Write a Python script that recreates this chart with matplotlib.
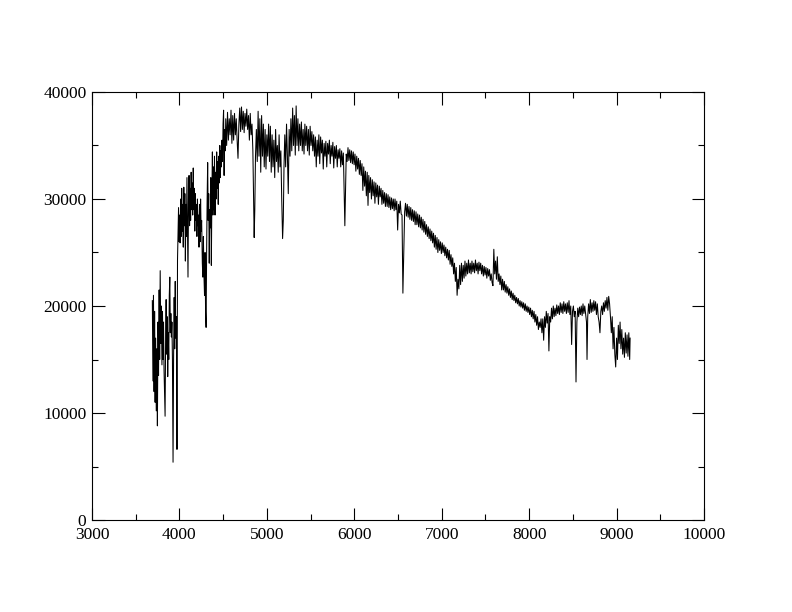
import numpy as np
import matplotlib.pyplot as plt

# spectrum, (wavelength, flux) pairs in segments
seg_blue = [
    (3690, 20500), (3697, 13000), (3703, 21000), (3710, 12000), (3716, 19500), (3722, 11000),
    (3728, 17000), (3735, 10200), (3742, 16000), (3748, 8800), (3755, 18500), (3761, 13500),
    (3768, 21500), (3774, 15000), (3780, 23300), (3787, 16500), (3793, 20000), (3800, 14500),
    (3806, 19500), (3812, 15000), (3818, 18500), (3824, 14000), (3830, 12000), (3836, 9700),
    (3842, 17000), (3848, 20600), (3854, 15500), (3860, 19000), (3866, 13400), (3872, 17500),
    (3878, 15000), (3884, 21000), (3890, 22700), (3896, 17500), (3902, 19300), (3908, 17100),
    (3914, 18500), (3920, 15000), (3927, 5400), (3933, 15000), (3940, 20800), (3946, 16000),
    (3952, 22300), (3958, 17000), (3965, 19000), (3972, 6600), (3978, 24300), (3984, 27000),
    (3990, 29200), (3996, 26000), (4002, 28500), (4008, 25900), (4014, 30000), (4020, 26500),
    (4026, 31000), (4032, 27000), (4038, 29500), (4044, 25500), (4050, 31100), (4056, 27500),
    (4062, 30500), (4068, 24200), (4074, 29500), (4080, 26500), (4086, 32000), (4092, 27000),
    (4098, 22700), (4104, 30000), (4110, 32200), (4116, 27500), (4122, 31000), (4128, 28000),
    (4134, 32500), (4140, 29000), (4146, 31500), (4152, 28500), (4158, 32900), (4164, 29000),
    (4170, 31000), (4176, 27000), (4182, 30500), (4188, 28000), (4194, 29500), (4200, 26500),
    (4206, 30000), (4212, 27500), (4218, 28500), (4224, 25500), (4230, 29500), (4236, 26000),
    (4242, 30000), (4248, 27000), (4254, 28000), (4262, 24000), (4268, 22700), (4274, 26500),
    (4280, 23000), (4287, 21000), (4293, 25000), (4299, 19500), (4305, 18000), (4311, 25000),
    (4317, 30000), (4323, 33400), (4329, 28000), (4335, 30500), (4341, 24000), (4347, 29000),
    (4353, 27300), (4359, 32000), (4365, 23800), (4371, 30000), (4377, 34400), (4383, 28500),
    (4389, 33000), (4395, 29000), (4401, 34000), (4407, 28500), (4413, 32500), (4420, 30000),
    (4426, 34400), (4432, 31000), (4438, 33500), (4444, 29500), (4450, 34000), (4456, 31500),
    (4462, 35000), (4468, 32000), (4474, 34500), (4480, 33000), (4487, 35500), (4493, 33500),
    (4499, 37000), (4505, 38300), (4511, 32200), (4517, 36500), (4523, 34500),
]

seg_green = [
    (4530, 37500), (4540, 35000), (4550, 38100), (4560, 35500), (4570, 37500), (4580, 36000),
    (4590, 38300), (4600, 35200), (4610, 37800), (4620, 35500), (4630, 38000), (4640, 36000),
    (4650, 37500), (4660, 35500), (4670, 33800), (4680, 37000), (4690, 38500), (4700, 36300),
    (4710, 38600), (4720, 36500), (4730, 38200), (4740, 36200), (4750, 38000), (4760, 36800),
    (4770, 38400), (4780, 36500), (4790, 37800), (4800, 35500), (4810, 38000), (4820, 36000),
    (4830, 37000), (4840, 34500), (4848, 30000), (4855, 26400), (4862, 29000), (4870, 34000),
    (4880, 36500), (4890, 33500), (4900, 38200), (4910, 34000), (4920, 37500), (4930, 32500),
    (4940, 37800), (4950, 34000), (4960, 37000), (4970, 33000), (4980, 36500), (4990, 32800),
    (5000, 36000), (5010, 34000), (5020, 37000), (5030, 33500), (5040, 36800), (5050, 32500),
    (5060, 36000), (5070, 33000), (5080, 35500), (5090, 32000), (5100, 36500), (5110, 33500),
    (5120, 35000), (5130, 32500), (5140, 36000), (5150, 33000), (5160, 34500), (5170, 30000),
    (5180, 26300), (5188, 28000), (5196, 33000), (5205, 36000), (5215, 33000), (5225, 37000),
    (5235, 34000), (5245, 30500), (5255, 36500), (5265, 34000), (5275, 37500), (5285, 34500),
    (5295, 38500), (5305, 35000), (5315, 37800), (5325, 34100), (5335, 38700), (5345, 35000),
    (5355, 37500), (5365, 34500), (5375, 37000), (5385, 35000), (5395, 37200), (5405, 34500),
    (5415, 36500), (5425, 34200), (5435, 37000), (5445, 35000), (5455, 36800), (5465, 34500),
    (5475, 36500), (5485, 34100), (5495, 36800), (5505, 35000), (5515, 36300), (5525, 34500),
    (5535, 36000),
]

seg_yellow = [
    (5545, 34000), (5555, 35800), (5565, 33000), (5575, 35500), (5585, 34000), (5595, 36000),
    (5605, 33300), (5615, 35800), (5625, 34300), (5635, 35500), (5645, 32800), (5655, 35200),
    (5665, 34000), (5675, 35400), (5685, 33000), (5695, 35200), (5705, 34200), (5715, 35500),
    (5725, 33300), (5735, 35000), (5745, 34000), (5755, 35300), (5765, 32900), (5775, 34900),
    (5785, 33800), (5795, 35000), (5805, 33000), (5815, 34600), (5825, 33800), (5835, 34700),
    (5845, 33000), (5855, 34500), (5865, 33200), (5875, 34300), (5885, 30000), (5892, 27500),
    (5900, 31000), (5908, 34200), (5918, 33500), (5928, 34800), (5938, 33600), (5948, 34600),
    (5958, 33400), (5968, 34500), (5978, 33300), (5988, 34400), (5998, 33200), (6008, 34200),
    (6018, 32600), (6028, 34000), (6038, 32800), (6048, 33800), (6058, 32300), (6068, 33600),
    (6078, 32200), (6088, 33300), (6098, 30800), (6108, 33000), (6118, 31200), (6128, 32600),
    (6138, 30300), (6148, 32500), (6157, 29400), (6166, 32200), (6176, 30600), (6186, 32000),
    (6196, 30000), (6206, 31800), (6216, 30300), (6226, 31600), (6236, 29600), (6246, 31500),
    (6256, 30200), (6266, 31300), (6276, 29500), (6286, 31200), (6296, 30200), (6306, 31000),
    (6316, 29500), (6326, 30800), (6336, 29600), (6346, 30600), (6356, 29300), (6366, 30500),
    (6376, 29300), (6386, 30400), (6396, 29200), (6406, 30200), (6416, 29000), (6426, 30100),
    (6436, 29100), (6446, 30000), (6456, 28900), (6466, 30000), (6476, 29000), (6486, 29800),
    (6496, 27100), (6506, 29500), (6516, 28700), (6526, 29800), (6536, 28600), (6546, 28500),
    (6556, 21200),
]

seg_red = [
    (6566, 25000), (6576, 28800), (6586, 29600), (6596, 28400), (6606, 29500), (6616, 28300),
    (6626, 29300), (6636, 28100), (6646, 29200), (6656, 28000), (6666, 29000), (6676, 27900),
    (6686, 28900), (6696, 27600), (6706, 28800), (6716, 27600), (6726, 28600), (6736, 27400),
    (6746, 28500), (6756, 27300), (6766, 28300), (6776, 27100), (6786, 28100), (6796, 26900),
    (6806, 27900), (6816, 26700), (6826, 27600), (6836, 26500), (6846, 27400), (6856, 26300),
    (6866, 27200), (6876, 26100), (6886, 27000), (6896, 25900), (6906, 26800), (6916, 25500),
    (6926, 26600), (6936, 25300), (6946, 26400), (6956, 25000), (6966, 26200), (6976, 25200),
    (6986, 26000), (6996, 24900), (7006, 25900), (7016, 25000), (7026, 25700), (7036, 24700),
    (7046, 25500), (7056, 24500), (7066, 25300), (7076, 24300), (7086, 25200), (7096, 23900),
    (7106, 24800), (7116, 23700), (7126, 24500), (7136, 23000), (7146, 24000), (7156, 22300),
    (7166, 23600), (7176, 21000), (7186, 22500), (7196, 21600), (7206, 23800), (7216, 22000),
    (7226, 24000), (7236, 22300), (7246, 23800), (7256, 22600), (7266, 24200), (7276, 22800),
    (7286, 24000), (7296, 23000), (7306, 24300), (7316, 23100), (7326, 24000), (7336, 23000),
    (7346, 24200), (7356, 23200), (7366, 24000), (7376, 23100), (7386, 24300), (7396, 23300),
    (7406, 24000), (7416, 23000), (7426, 24100), (7436, 23300), (7446, 24000), (7456, 23000),
    (7466, 23800), (7476, 22800), (7486, 23700), (7496, 22900), (7506, 23600), (7516, 22600),
    (7526, 23500), (7536, 22800), (7546, 23400), (7556, 22400), (7566, 23000), (7576, 22200),
    (7586, 21900), (7596, 25300),
]

seg_ir = [
    (7606, 23000), (7616, 24200), (7626, 22500), (7636, 24600), (7646, 22300), (7656, 23000),
    (7666, 22000), (7676, 22800), (7686, 21500), (7696, 22500), (7706, 21500), (7716, 22300),
    (7726, 21300), (7736, 22000), (7746, 21200), (7756, 21800), (7766, 21000), (7776, 21600),
    (7786, 20800), (7796, 21400), (7806, 20600), (7816, 21200), (7826, 20500), (7836, 21000),
    (7846, 20300), (7856, 20800), (7866, 20200), (7876, 20700), (7886, 20000), (7896, 20500),
    (7906, 19900), (7916, 20400), (7926, 19800), (7936, 20300), (7946, 19600), (7956, 20200),
    (7966, 19500), (7976, 20000), (7986, 19400), (7996, 19900), (8006, 19200), (8016, 19800),
    (8026, 19000), (8036, 19600), (8046, 18800), (8056, 19500), (8066, 18500), (8076, 19200),
    (8086, 18200), (8096, 19000), (8106, 17800), (8116, 18500), (8126, 18000), (8136, 18800),
    (8146, 17500), (8156, 18800), (8166, 16800), (8176, 19000), (8186, 18000), (8196, 19500),
    (8206, 18400), (8216, 19300), (8226, 15800), (8236, 19000), (8246, 18500), (8256, 19800),
    (8266, 18800), (8276, 20000), (8286, 19000), (8296, 19800), (8306, 19100), (8316, 20100),
    (8326, 19300), (8336, 20000), (8346, 19200), (8356, 20300), (8366, 19400), (8376, 20200),
    (8386, 19300), (8396, 20400), (8406, 19500), (8416, 20200), (8426, 19300), (8436, 20300),
    (8446, 19400), (8456, 20500), (8466, 19200), (8476, 20000), (8486, 16400), (8496, 19500),
    (8506, 20000), (8516, 19000), (8526, 19500), (8536, 12900), (8546, 18500), (8556, 19800),
    (8566, 19000), (8576, 19900), (8586, 19200), (8596, 20000), (8606, 19100), (8616, 20200),
    (8626, 19300), (8636, 20000), (8646, 19200), (8656, 18500), (8662, 15000), (8670, 19000),
    (8680, 20200), (8690, 19300), (8700, 20600), (8710, 19400), (8720, 20300), (8730, 19500),
    (8740, 20500), (8750, 19600), (8760, 20400), (8770, 19200), (8780, 20200), (8790, 19000),
    (8800, 18500), (8810, 17500), (8820, 19500), (8830, 20000), (8840, 19200), (8850, 20300),
    (8860, 19500), (8870, 20500), (8880, 19800), (8890, 20800), (8900, 19600), (8910, 20900),
    (8920, 20200), (8930, 19000), (8940, 17500), (8950, 19000), (8960, 16000), (8970, 18000),
    (8980, 15500), (8990, 14300), (9000, 17000), (9010, 15000), (9020, 18200), (9030, 16500),
    (9040, 18500), (9050, 16000), (9060, 17800), (9070, 15500), (9080, 17000), (9090, 15200),
    (9100, 17500), (9110, 15600), (9120, 17300), (9130, 15300), (9140, 17500), (9150, 15000),
    (9155, 17000),
]

x_ticks = [3000, 4000, 5000, 6000, 7000, 8000, 9000, 10000]
y_ticks = [0, 10000, 20000, 30000, 40000]

spec = np.array(seg_blue + seg_green + seg_yellow + seg_red + seg_ir)

plt.rcParams['font.family'] = ['Liberation Serif', 'DejaVu Serif']

fig = plt.figure(figsize=(7.92, 6.12), dpi=100)
ax = fig.add_axes([92/792, 92/612, 612/792, 428/612])
ax.plot(spec[:, 0], spec[:, 1], color='black', linewidth=0.75)

ax.set_xlim(3000, 10000)
ax.set_ylim(0, 40000)
ax.set_xticks(x_ticks)
ax.set_yticks(y_ticks)
ax.set_xticks(np.array(x_ticks[:-1]) + 500, minor=True)
ax.set_yticks(np.array(y_ticks[:-1]) + 5000, minor=True)
ax.tick_params(which='both', direction='in', top=True, right=True,
               labelsize=12.5, width=0.8, color='black')
ax.tick_params(which='major', length=9)
ax.tick_params(which='minor', length=4.5)
ax.tick_params(axis='x', pad=5)
ax.tick_params(axis='y', pad=4)
for s in ax.spines.values():
    s.set_linewidth(0.8)

fig.savefig('out.png', dpi=100)
